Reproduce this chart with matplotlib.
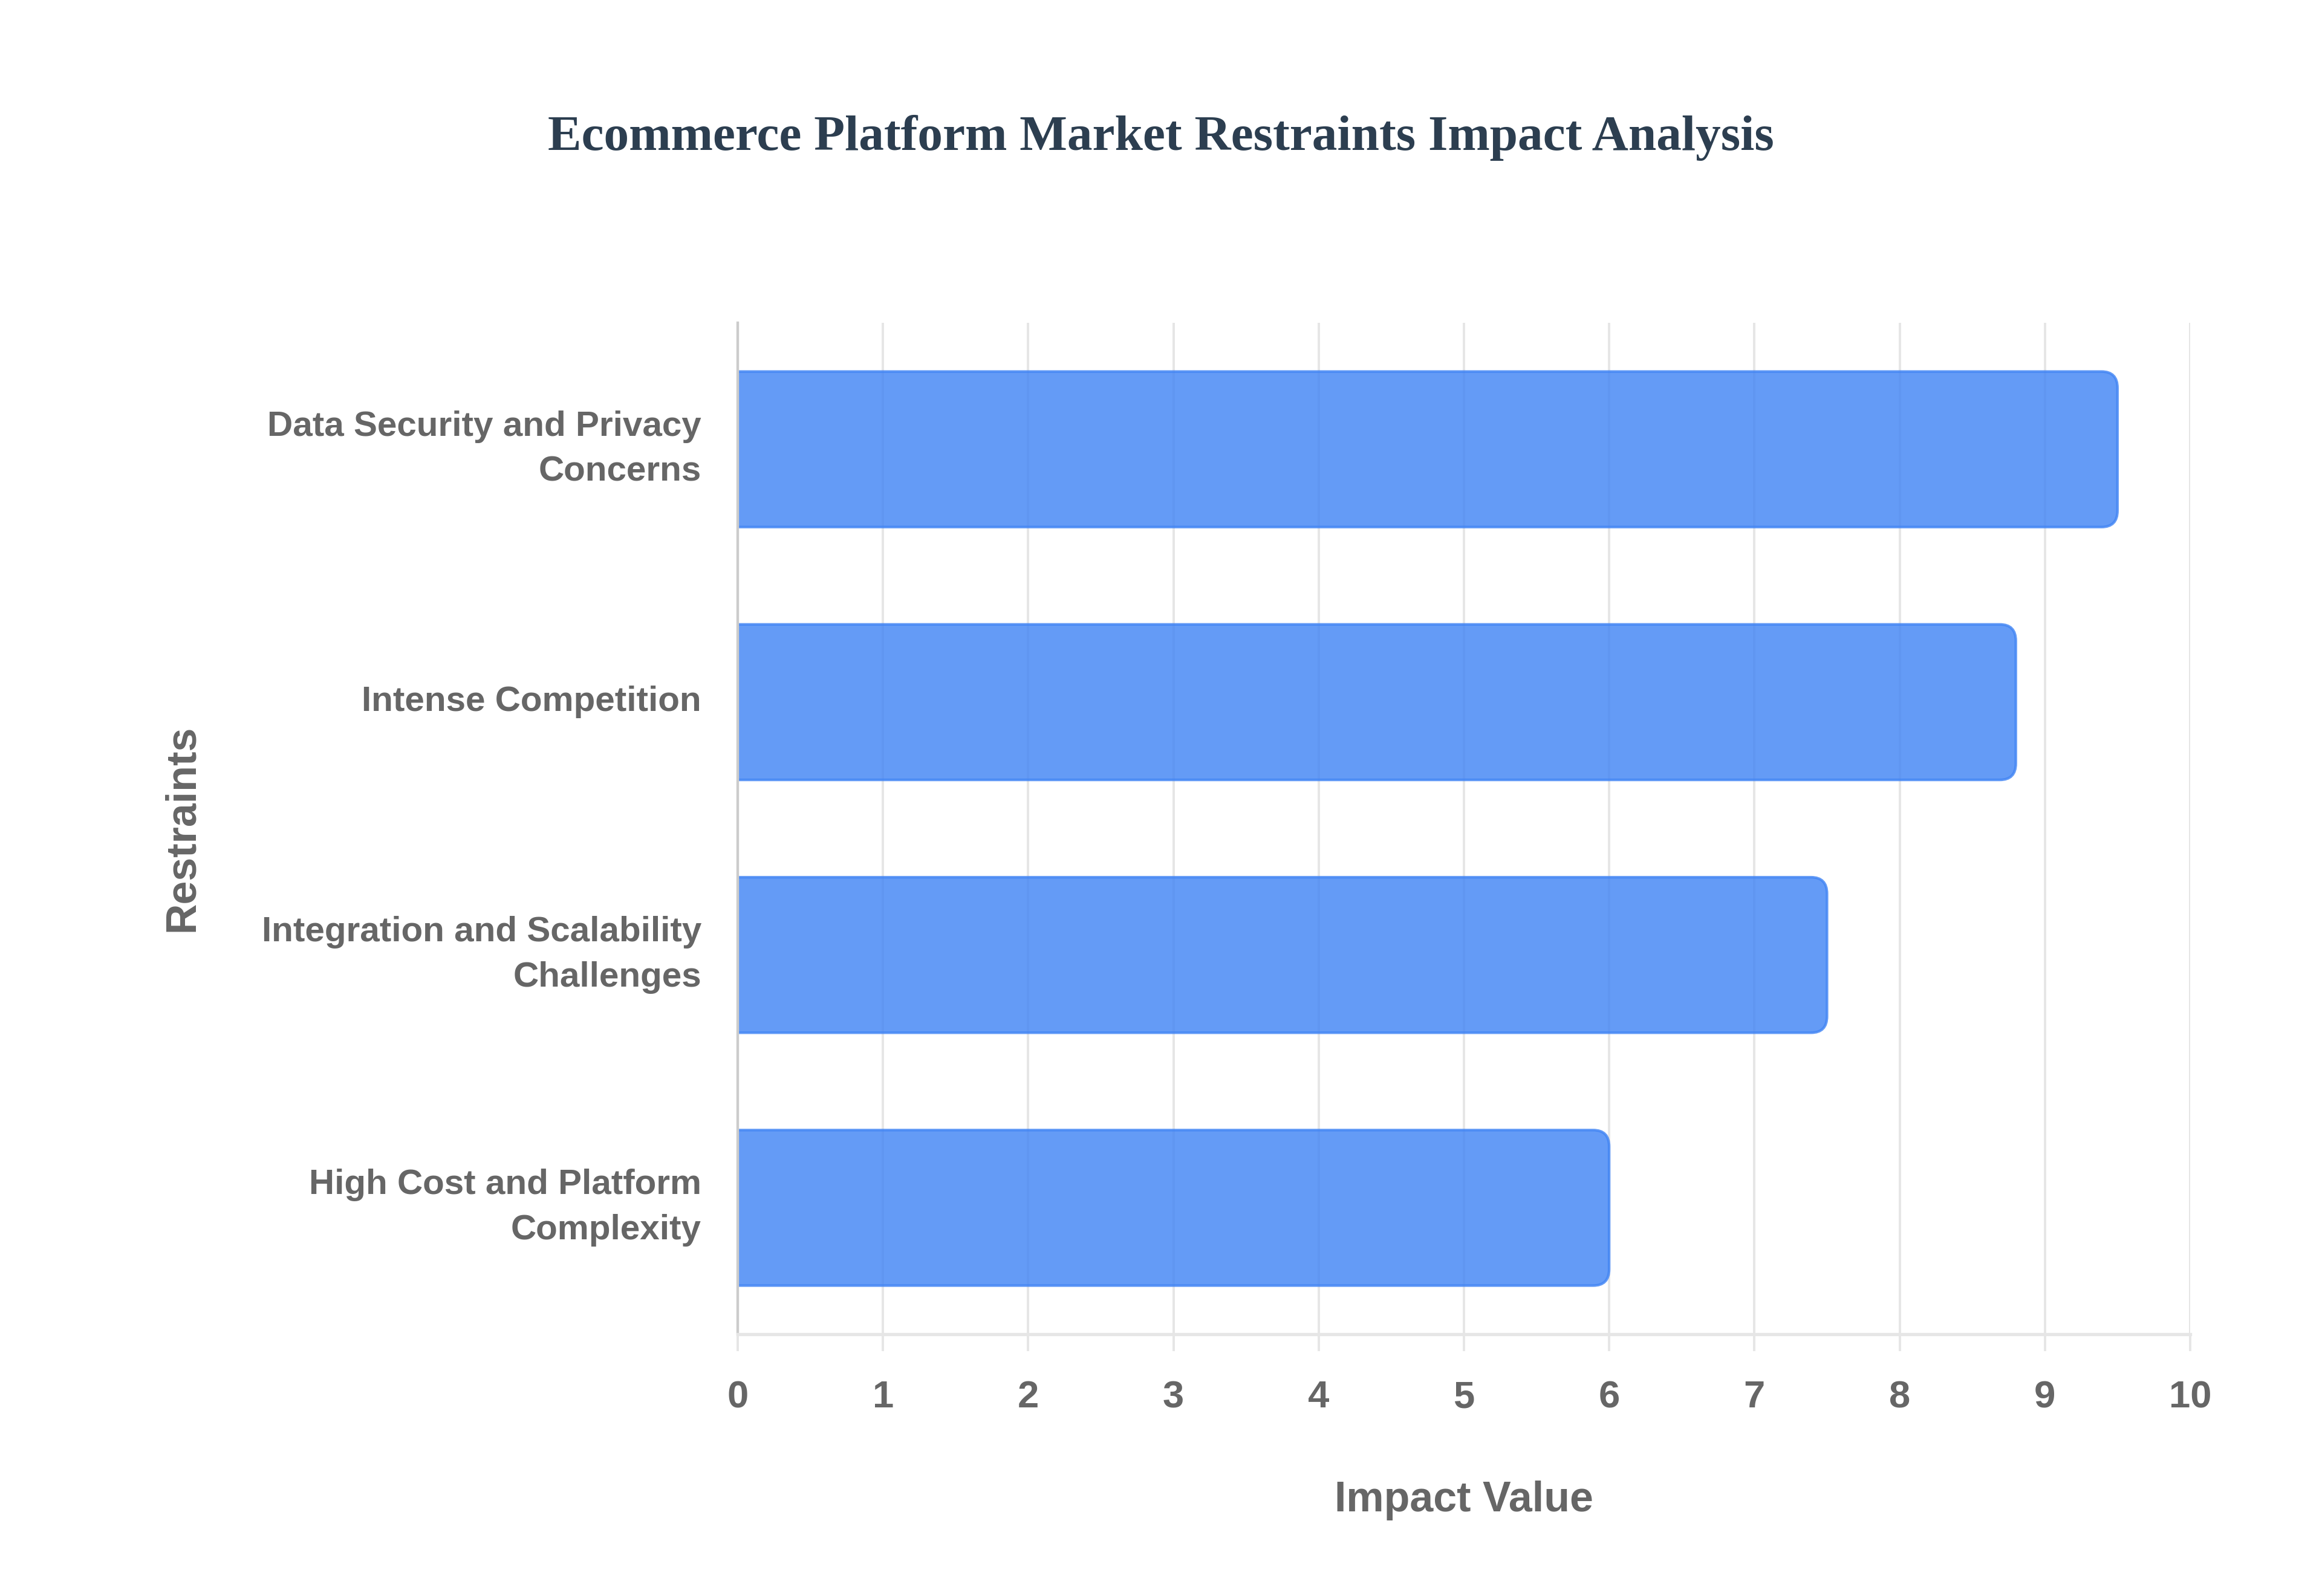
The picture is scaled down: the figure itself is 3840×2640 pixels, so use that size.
import matplotlib
matplotlib.use("Agg")
import matplotlib.pyplot as plt
from matplotlib.patches import FancyBboxPatch

# ==========================================
# Data
# ==========================================

restraints = [
    "Data Security and Privacy\nConcerns",
    "Intense Competition",
    "Integration and Scalability\nChallenges",
    "High Cost and Platform\nComplexity",
]
impact_values = [9.5, 8.8, 7.5, 6.0]
x_ticks = list(range(0, 11))

title_text = "Ecommerce Platform Market Restraints Impact Analysis"
x_label = "Impact Value"
y_label = "Restraints"

# ==========================================
# Styles
# ==========================================

bar_color = "#4285F4"
text_gray = "#666666"
grid_gray = "#e6e6e6"

fig = plt.figure(figsize=(16, 11), dpi=240)
ax = fig.add_axes([0.3177, 0.164, 0.6255, 0.6337])

# Bars (drawn with barh, then swapped for rounded boxes)
bars = ax.barh(restraints, impact_values, height=0.615)
for rect in bars:
    x0, y0 = rect.get_x(), rect.get_y()
    w, h = rect.get_width(), rect.get_height()
    rect.remove()
    box = FancyBboxPatch(
        (x0 - 0.3, y0), w + 0.3, h,
        boxstyle="round,pad=0,rounding_size=0.11",
        mutation_aspect=0.59,
        facecolor=bar_color, alpha=0.82,
        edgecolor=bar_color, linewidth=1.3,
        zorder=2,
    )
    ax.add_patch(box)
    box.set_clip_path(ax.patch)

ax.set_xlim(0, 10)
ax.set_ylim(3.5, -0.5)

ax.set_xticks(x_ticks)
ax.set_xticklabels([str(t) for t in x_ticks])

# Grid
ax.set_axisbelow(True)
ax.grid(axis="x", color=grid_gray, linewidth=1.2)
ax.grid(axis="y", visible=False)

# Spines
for side in ["top", "right"]:
    ax.spines[side].set_visible(False)
ax.spines["left"].set_color("#cccccc")
ax.spines["left"].set_linewidth(1.3)
ax.spines["bottom"].set_color(grid_gray)
ax.spines["bottom"].set_linewidth(1.6)

# Ticks
ax.tick_params(axis="x", length=8.5, width=1.2, color=grid_gray, pad=14,
               labelsize=19, labelcolor=text_gray)
ax.tick_params(axis="y", length=0, pad=18, labelsize=17.5, labelcolor=text_gray)
for lbl in ax.get_xticklabels() + ax.get_yticklabels():
    lbl.set_fontfamily("Liberation Sans")
    lbl.set_fontweight("bold")
for lbl in ax.get_yticklabels():
    lbl.set_linespacing(1.5)
    lbl.set_horizontalalignment("right")
    lbl.set_verticalalignment("center")
    lbl.set_multialignment("right")

# Labels
fig.text(0.6305, 0.06, x_label, ha="center", va="center",
         fontsize=21, fontweight="bold", color=text_gray,
         family="Liberation Sans")
fig.text(0.0785, 0.481, y_label, ha="center", va="center", rotation=90,
         fontsize=21, fontweight="bold", color=text_gray,
         family="Liberation Sans")

# Title
fig.text(0.5, 0.9136, title_text, ha="center", va="center",
         fontsize=25, fontweight="bold", color="#2c3e50",
         family="Liberation Serif")

fig.savefig("out.png", dpi=240, facecolor="white")
